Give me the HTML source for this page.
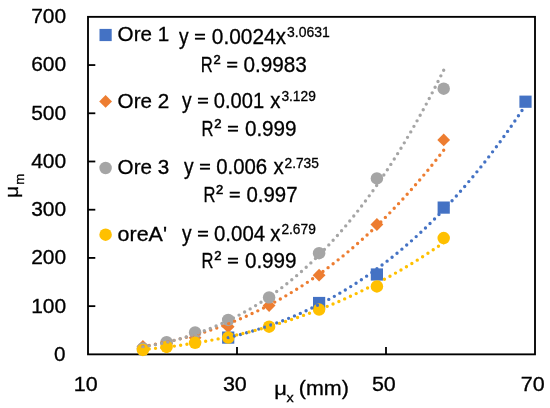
<!DOCTYPE html>
<html lang="en"><head><meta charset="utf-8"><title>Chart</title>
<style>html,body{margin:0;padding:0;background:#fff;}body{width:550px;height:408px;overflow:hidden;}</style></head>
<body>
<svg width="550" height="408" viewBox="0 0 550 408" style="display:block;font-family:'Liberation Sans', Arial, sans-serif;">
<rect x="0" y="0" width="550" height="408" fill="#ffffff"/>
<rect x="88.0" y="16.85" width="447.0" height="337.5" fill="none" stroke="#000" stroke-width="1.85"/>
<line x1="88.0" y1="306.14" x2="95.3" y2="306.14" stroke="#000" stroke-width="1.8"/>
<line x1="88.0" y1="257.92" x2="95.3" y2="257.92" stroke="#000" stroke-width="1.8"/>
<line x1="88.0" y1="209.71" x2="95.3" y2="209.71" stroke="#000" stroke-width="1.8"/>
<line x1="88.0" y1="161.49" x2="95.3" y2="161.49" stroke="#000" stroke-width="1.8"/>
<line x1="88.0" y1="113.28" x2="95.3" y2="113.28" stroke="#000" stroke-width="1.8"/>
<line x1="88.0" y1="65.06" x2="95.3" y2="65.06" stroke="#000" stroke-width="1.8"/>
<line x1="237.00" y1="354.35" x2="237.00" y2="347.05" stroke="#000" stroke-width="1.8"/>
<line x1="386.00" y1="354.35" x2="386.00" y2="347.05" stroke="#000" stroke-width="1.8"/>
<g>
<rect x="222.10" y="331.50" width="12.2" height="12.2" fill="#4472C4"/>
<rect x="313.00" y="296.90" width="12.2" height="12.2" fill="#4472C4"/>
<rect x="370.80" y="268.40" width="12.2" height="12.2" fill="#4472C4"/>
<rect x="437.60" y="201.50" width="12.2" height="12.2" fill="#4472C4"/>
<rect x="519.40" y="95.60" width="12.2" height="12.2" fill="#4472C4"/>
</g>
<g>
<path d="M142.90 340.10 L149.30 346.50 L142.90 352.90 L136.50 346.50 Z" fill="#ED7D31"/>
<path d="M166.60 337.10 L173.00 343.50 L166.60 349.90 L160.20 343.50 Z" fill="#ED7D31"/>
<path d="M195.10 331.40 L201.50 337.80 L195.10 344.20 L188.70 337.80 Z" fill="#ED7D31"/>
<path d="M228.20 320.30 L234.60 326.70 L228.20 333.10 L221.80 326.70 Z" fill="#ED7D31"/>
<path d="M269.10 299.20 L275.50 305.60 L269.10 312.00 L262.70 305.60 Z" fill="#ED7D31"/>
<path d="M319.10 268.80 L325.50 275.20 L319.10 281.60 L312.70 275.20 Z" fill="#ED7D31"/>
<path d="M376.90 218.10 L383.30 224.50 L376.90 230.90 L370.50 224.50 Z" fill="#ED7D31"/>
<path d="M443.70 133.50 L450.10 139.90 L443.70 146.30 L437.30 139.90 Z" fill="#ED7D31"/>
</g>
<g>
<circle cx="142.90" cy="348.40" r="6.25" fill="#A5A5A5"/>
<circle cx="166.60" cy="342.20" r="6.25" fill="#A5A5A5"/>
<circle cx="195.10" cy="332.50" r="6.25" fill="#A5A5A5"/>
<circle cx="228.20" cy="319.90" r="6.25" fill="#A5A5A5"/>
<circle cx="269.10" cy="297.50" r="6.25" fill="#A5A5A5"/>
<circle cx="319.10" cy="253.20" r="6.25" fill="#A5A5A5"/>
<circle cx="376.90" cy="178.40" r="6.25" fill="#A5A5A5"/>
<circle cx="443.70" cy="88.70" r="6.25" fill="#A5A5A5"/>
</g>
<g>
<circle cx="142.90" cy="349.90" r="6.25" fill="#FFC000"/>
<circle cx="166.60" cy="346.90" r="6.25" fill="#FFC000"/>
<circle cx="195.10" cy="342.80" r="6.25" fill="#FFC000"/>
<circle cx="228.20" cy="337.60" r="6.25" fill="#FFC000"/>
<circle cx="269.10" cy="326.70" r="6.25" fill="#FFC000"/>
<circle cx="319.10" cy="309.60" r="6.25" fill="#FFC000"/>
<circle cx="376.90" cy="286.40" r="6.25" fill="#FFC000"/>
<circle cx="443.70" cy="238.10" r="6.25" fill="#FFC000"/>
</g>
<path d="M228.20 337.58 L230.50 337.03 L232.81 336.46 L235.11 335.87 L237.42 335.28 L239.72 334.67 L242.03 334.04 L244.33 333.41 L246.64 332.76 L248.94 332.09 L251.25 331.42 L253.55 330.72 L255.86 330.02 L258.16 329.30 L260.47 328.56 L262.77 327.81 L265.07 327.05 L267.38 326.27 L269.68 325.47 L271.99 324.66 L274.29 323.84 L276.60 322.99 L278.90 322.14 L281.21 321.26 L283.51 320.37 L285.82 319.47 L288.12 318.55 L290.43 317.61 L292.73 316.65 L295.03 315.68 L297.34 314.69 L299.64 313.68 L301.95 312.66 L304.25 311.61 L306.56 310.56 L308.86 309.48 L311.17 308.38 L313.47 307.27 L315.78 306.14 L318.08 304.98 L320.39 303.82 L322.69 302.63 L325.00 301.42 L327.30 300.19 L329.60 298.95 L331.91 297.68 L334.21 296.40 L336.52 295.09 L338.82 293.77 L341.13 292.42 L343.43 291.06 L345.74 289.67 L348.04 288.27 L350.35 286.84 L352.65 285.39 L354.96 283.92 L357.26 282.43 L359.57 280.92 L361.87 279.39 L364.17 277.83 L366.48 276.26 L368.78 274.66 L371.09 273.04 L373.39 271.39 L375.70 269.73 L378.00 268.04 L380.31 266.33 L382.61 264.59 L384.92 262.83 L387.22 261.05 L389.53 259.25 L391.83 257.42 L394.13 255.57 L396.44 253.69 L398.74 251.79 L401.05 249.87 L403.35 247.92 L405.66 245.94 L407.96 243.94 L410.27 241.92 L412.57 239.87 L414.88 237.80 L417.18 235.70 L419.49 233.57 L421.79 231.42 L424.10 229.24 L426.40 227.04 L428.70 224.81 L431.01 222.55 L433.31 220.27 L435.62 217.96 L437.92 215.62 L440.23 213.26 L442.53 210.87 L444.84 208.45 L447.14 206.00 L449.45 203.53 L451.75 201.03 L454.06 198.50 L456.36 195.94 L458.67 193.35 L460.97 190.73 L463.27 188.09 L465.58 185.42 L467.88 182.71 L470.19 179.98 L472.49 177.22 L474.80 174.43 L477.10 171.61 L479.41 168.75 L481.71 165.87 L484.02 162.96 L486.32 160.02 L488.63 157.05 L490.93 154.04 L493.23 151.01 L495.54 147.94 L497.84 144.84 L500.15 141.72 L502.45 138.55 L504.76 135.36 L507.06 132.14 L509.37 128.88 L511.67 125.59 L513.98 122.27 L516.28 118.92 L518.59 115.53 L520.89 112.11 L523.20 108.66 L525.50 105.17" fill="none" stroke="#4472C4" stroke-width="3.4" stroke-linecap="round" stroke-dasharray="0 6.3467"/>
<path d="M142.90 346.44 L145.23 346.06 L147.56 345.67 L149.90 345.27 L152.23 344.85 L154.56 344.42 L156.89 343.98 L159.22 343.53 L161.55 343.07 L163.89 342.59 L166.22 342.09 L168.55 341.59 L170.88 341.07 L173.21 340.54 L175.54 339.99 L177.88 339.43 L180.21 338.86 L182.54 338.27 L184.87 337.67 L187.20 337.05 L189.54 336.42 L191.87 335.78 L194.20 335.12 L196.53 334.44 L198.86 333.75 L201.19 333.04 L203.53 332.32 L205.86 331.59 L208.19 330.83 L210.52 330.06 L212.85 329.28 L215.19 328.48 L217.52 327.66 L219.85 326.83 L222.18 325.98 L224.51 325.11 L226.84 324.23 L229.18 323.32 L231.51 322.41 L233.84 321.47 L236.17 320.52 L238.50 319.55 L240.83 318.56 L243.17 317.56 L245.50 316.53 L247.83 315.49 L250.16 314.43 L252.49 313.35 L254.83 312.26 L257.16 311.14 L259.49 310.01 L261.82 308.85 L264.15 307.68 L266.48 306.49 L268.82 305.28 L271.15 304.05 L273.48 302.80 L275.81 301.53 L278.14 300.24 L280.48 298.93 L282.81 297.60 L285.14 296.26 L287.47 294.89 L289.80 293.50 L292.13 292.09 L294.47 290.65 L296.80 289.20 L299.13 287.73 L301.46 286.24 L303.79 284.72 L306.12 283.18 L308.46 281.63 L310.79 280.05 L313.12 278.45 L315.45 276.82 L317.78 275.18 L320.12 273.51 L322.45 271.82 L324.78 270.11 L327.11 268.37 L329.44 266.62 L331.77 264.84 L334.11 263.03 L336.44 261.21 L338.77 259.36 L341.10 257.49 L343.43 255.59 L345.77 253.67 L348.10 251.73 L350.43 249.76 L352.76 247.77 L355.09 245.76 L357.42 243.72 L359.76 241.66 L362.09 239.57 L364.42 237.46 L366.75 235.33 L369.08 233.17 L371.41 230.98 L373.75 228.77 L376.08 226.54 L378.41 224.28 L380.74 221.99 L383.07 219.68 L385.41 217.34 L387.74 214.98 L390.07 212.59 L392.40 210.18 L394.73 207.74 L397.06 205.27 L399.40 202.78 L401.73 200.26 L404.06 197.72 L406.39 195.15 L408.72 192.55 L411.06 189.92 L413.39 187.27 L415.72 184.59 L418.05 181.88 L420.38 179.15 L422.71 176.39 L425.05 173.60 L427.38 170.78 L429.71 167.94 L432.04 165.07 L434.37 162.17 L436.70 159.24 L439.04 156.28 L441.37 153.30 L443.70 150.28" fill="none" stroke="#ED7D31" stroke-width="3.4" stroke-linecap="round" stroke-dasharray="0 6.3546"/>
<path d="M142.90 346.97 L145.23 346.57 L147.56 346.16 L149.90 345.73 L152.23 345.29 L154.56 344.83 L156.89 344.35 L159.22 343.86 L161.55 343.35 L163.89 342.83 L166.22 342.29 L168.55 341.73 L170.88 341.15 L173.21 340.56 L175.54 339.94 L177.88 339.31 L180.21 338.66 L182.54 337.99 L184.87 337.30 L187.20 336.59 L189.54 335.86 L191.87 335.11 L194.20 334.34 L196.53 333.55 L198.86 332.74 L201.19 331.90 L203.53 331.05 L205.86 330.17 L208.19 329.27 L210.52 328.34 L212.85 327.40 L215.19 326.43 L217.52 325.44 L219.85 324.42 L222.18 323.38 L224.51 322.31 L226.84 321.22 L229.18 320.11 L231.51 318.97 L233.84 317.80 L236.17 316.61 L238.50 315.39 L240.83 314.15 L243.17 312.87 L245.50 311.57 L247.83 310.25 L250.16 308.89 L252.49 307.51 L254.83 306.10 L257.16 304.66 L259.49 303.20 L261.82 301.70 L264.15 300.17 L266.48 298.62 L268.82 297.03 L271.15 295.41 L273.48 293.77 L275.81 292.09 L278.14 290.38 L280.48 288.64 L282.81 286.86 L285.14 285.06 L287.47 283.22 L289.80 281.35 L292.13 279.44 L294.47 277.51 L296.80 275.54 L299.13 273.53 L301.46 271.49 L303.79 269.42 L306.12 267.31 L308.46 265.17 L310.79 262.99 L313.12 260.77 L315.45 258.52 L317.78 256.23 L320.12 253.91 L322.45 251.55 L324.78 249.15 L327.11 246.71 L329.44 244.24 L331.77 241.72 L334.11 239.17 L336.44 236.58 L338.77 233.95 L341.10 231.28 L343.43 228.58 L345.77 225.83 L348.10 223.04 L350.43 220.21 L352.76 217.34 L355.09 214.43 L357.42 211.47 L359.76 208.48 L362.09 205.44 L364.42 202.36 L366.75 199.24 L369.08 196.07 L371.41 192.86 L373.75 189.61 L376.08 186.31 L378.41 182.97 L380.74 179.58 L383.07 176.15 L385.41 172.68 L387.74 169.15 L390.07 165.59 L392.40 161.97 L394.73 158.31 L397.06 154.60 L399.40 150.85 L401.73 147.05 L404.06 143.20 L406.39 139.30 L408.72 135.35 L411.06 131.36 L413.39 127.31 L415.72 123.22 L418.05 119.08 L420.38 114.88 L422.71 110.64 L425.05 106.35 L427.38 102.00 L429.71 97.61 L432.04 93.16 L434.37 88.66 L436.70 84.11 L439.04 79.51 L441.37 74.85 L443.70 70.14" fill="none" stroke="#A5A5A5" stroke-width="3.4" stroke-linecap="round" stroke-dasharray="0 6.3593"/>
<path d="M142.90 349.59 L145.23 349.38 L147.56 349.15 L149.90 348.92 L152.23 348.69 L154.56 348.44 L156.89 348.19 L159.22 347.93 L161.55 347.67 L163.89 347.40 L166.22 347.12 L168.55 346.83 L170.88 346.54 L173.21 346.24 L175.54 345.93 L177.88 345.62 L180.21 345.29 L182.54 344.96 L184.87 344.62 L187.20 344.27 L189.54 343.92 L191.87 343.56 L194.20 343.19 L196.53 342.81 L198.86 342.42 L201.19 342.02 L203.53 341.62 L205.86 341.21 L208.19 340.79 L210.52 340.36 L212.85 339.92 L215.19 339.47 L217.52 339.01 L219.85 338.55 L222.18 338.08 L224.51 337.59 L226.84 337.10 L229.18 336.60 L231.51 336.09 L233.84 335.57 L236.17 335.04 L238.50 334.50 L240.83 333.95 L243.17 333.40 L245.50 332.83 L247.83 332.25 L250.16 331.67 L252.49 331.07 L254.83 330.46 L257.16 329.85 L259.49 329.22 L261.82 328.58 L264.15 327.94 L266.48 327.28 L268.82 326.61 L271.15 325.94 L273.48 325.25 L275.81 324.55 L278.14 323.84 L280.48 323.12 L282.81 322.39 L285.14 321.65 L287.47 320.90 L289.80 320.14 L292.13 319.36 L294.47 318.58 L296.80 317.78 L299.13 316.97 L301.46 316.16 L303.79 315.33 L306.12 314.49 L308.46 313.63 L310.79 312.77 L313.12 311.90 L315.45 311.01 L317.78 310.11 L320.12 309.20 L322.45 308.28 L324.78 307.35 L327.11 306.40 L329.44 305.44 L331.77 304.47 L334.11 303.49 L336.44 302.50 L338.77 301.49 L341.10 300.48 L343.43 299.44 L345.77 298.40 L348.10 297.35 L350.43 296.28 L352.76 295.20 L355.09 294.11 L357.42 293.00 L359.76 291.88 L362.09 290.75 L364.42 289.61 L366.75 288.45 L369.08 287.28 L371.41 286.10 L373.75 284.91 L376.08 283.70 L378.41 282.47 L380.74 281.24 L383.07 279.99 L385.41 278.73 L387.74 277.45 L390.07 276.16 L392.40 274.86 L394.73 273.55 L397.06 272.22 L399.40 270.87 L401.73 269.52 L404.06 268.15 L406.39 266.76 L408.72 265.36 L411.06 263.95 L413.39 262.52 L415.72 261.08 L418.05 259.63 L420.38 258.16 L422.71 256.67 L425.05 255.18 L427.38 253.66 L429.71 252.14 L432.04 250.60 L434.37 249.04 L436.70 247.47 L439.04 245.88 L441.37 244.28 L443.70 242.67" fill="none" stroke="#FFC000" stroke-width="3.4" stroke-linecap="round" stroke-dasharray="0 6.3340"/>
<g class="y-axis-labels">
<text font-size="20.0" fill="#000" stroke="#000" stroke-width="0.3"><tspan x="54.00" y="361.05" textLength="11.5" lengthAdjust="spacingAndGlyphs">0</tspan></text>
<text font-size="20.0" fill="#000" stroke="#000" stroke-width="0.3"><tspan x="31.20" y="312.54" textLength="35.0" lengthAdjust="spacingAndGlyphs">100</tspan></text>
<text font-size="20.0" fill="#000" stroke="#000" stroke-width="0.3"><tspan x="31.20" y="264.32" textLength="35.0" lengthAdjust="spacingAndGlyphs">200</tspan></text>
<text font-size="20.0" fill="#000" stroke="#000" stroke-width="0.3"><tspan x="31.20" y="216.11" textLength="35.0" lengthAdjust="spacingAndGlyphs">300</tspan></text>
<text font-size="20.0" fill="#000" stroke="#000" stroke-width="0.3"><tspan x="31.20" y="167.89" textLength="35.0" lengthAdjust="spacingAndGlyphs">400</tspan></text>
<text font-size="20.0" fill="#000" stroke="#000" stroke-width="0.3"><tspan x="31.20" y="119.68" textLength="35.0" lengthAdjust="spacingAndGlyphs">500</tspan></text>
<text font-size="20.0" fill="#000" stroke="#000" stroke-width="0.3"><tspan x="31.20" y="71.46" textLength="35.0" lengthAdjust="spacingAndGlyphs">600</tspan></text>
<text font-size="20.0" fill="#000" stroke="#000" stroke-width="0.3"><tspan x="31.20" y="23.25" textLength="35.0" lengthAdjust="spacingAndGlyphs">700</tspan></text>
</g>
<g class="x-axis-labels">
<text font-size="20.0" fill="#000" stroke="#000" stroke-width="0.3"><tspan x="73.85" y="390.60" textLength="23.9" lengthAdjust="spacingAndGlyphs">10</tspan></text>
<text font-size="20.0" fill="#000" stroke="#000" stroke-width="0.3"><tspan x="222.90" y="390.60" textLength="23.9" lengthAdjust="spacingAndGlyphs">30</tspan></text>
<text font-size="20.0" fill="#000" stroke="#000" stroke-width="0.3"><tspan x="371.90" y="390.60" textLength="23.9" lengthAdjust="spacingAndGlyphs">50</tspan></text>
<text font-size="20.0" fill="#000" stroke="#000" stroke-width="0.3"><tspan x="520.80" y="390.60" textLength="23.9" lengthAdjust="spacingAndGlyphs">70</tspan></text>
</g>
<text font-size="20.0" fill="#000" stroke="#000" stroke-width="0.3"><tspan x="274.20" y="394.60" textLength="12.6" lengthAdjust="spacingAndGlyphs" font-size="19.2">μ</tspan><tspan x="286.60" y="401.70" textLength="7.2" lengthAdjust="spacingAndGlyphs" font-size="12.5">x</tspan> <tspan x="298.80" y="394.60" textLength="50.0" lengthAdjust="spacingAndGlyphs">(mm)</tspan></text>
<g transform="translate(17.6 198.0) rotate(-90)"><text font-size="20.0" fill="#000" stroke="#000" stroke-width="0.3"><tspan x="0.00" y="0.00" textLength="12.2" lengthAdjust="spacingAndGlyphs" font-size="19.2">μ</tspan><tspan x="13.20" y="5.90" textLength="11.0" lengthAdjust="spacingAndGlyphs" font-size="12.5">m</tspan></text></g>
<g class="legend">
<rect x="99.50" y="28.90" width="12.2" height="12.2" fill="#4472C4"/>
<text font-size="20.0" fill="#000" stroke="#000" stroke-width="0.3"><tspan x="117.60" y="41.10" textLength="51.6" lengthAdjust="spacingAndGlyphs">Ore 1</tspan></text>
<path d="M105.60 95.00 L112.00 101.40 L105.60 107.80 L99.20 101.40 Z" fill="#ED7D31"/>
<text font-size="20.0" fill="#000" stroke="#000" stroke-width="0.3"><tspan x="117.60" y="107.50" textLength="51.6" lengthAdjust="spacingAndGlyphs">Ore 2</tspan></text>
<circle cx="105.60" cy="168.00" r="6.25" fill="#A5A5A5"/>
<text font-size="20.0" fill="#000" stroke="#000" stroke-width="0.3"><tspan x="117.60" y="174.30" textLength="51.6" lengthAdjust="spacingAndGlyphs">Ore 3</tspan></text>
<circle cx="105.60" cy="234.70" r="6.25" fill="#FFC000"/>
<text font-size="20.0" fill="#000" stroke="#000" stroke-width="0.3"><tspan x="117.60" y="241.00" textLength="49.4" lengthAdjust="spacingAndGlyphs">oreA'</tspan></text>
</g>
<g class="equations">
<text font-size="21.2" fill="#000" stroke="#000" stroke-width="0.3"><tspan x="179.00" y="43.65" textLength="9.6" lengthAdjust="spacingAndGlyphs">y</tspan> <tspan x="194.50" y="41.60" textLength="11.0" lengthAdjust="spacingAndGlyphs" font-size="15.0" stroke-width="0.75">=</tspan> <tspan x="211.80" y="43.65" textLength="63.8" lengthAdjust="spacingAndGlyphs">0.0024</tspan><tspan x="275.80" y="43.65" textLength="10.2" lengthAdjust="spacingAndGlyphs">x</tspan><tspan x="287.00" y="37.00" textLength="42.7" lengthAdjust="spacingAndGlyphs" font-size="14.2">3.0631</tspan></text>
<text font-size="21.2" fill="#000" stroke="#000" stroke-width="0.3"><tspan x="200.80" y="71.85" textLength="12.0" lengthAdjust="spacingAndGlyphs">R</tspan><tspan x="213.40" y="63.90" textLength="7.2" lengthAdjust="spacingAndGlyphs" font-size="12.0" stroke-width="0.6">2</tspan> <tspan x="226.70" y="69.80" textLength="11.0" lengthAdjust="spacingAndGlyphs" font-size="15.0" stroke-width="0.75">=</tspan> <tspan x="243.40" y="71.85" textLength="63.4" lengthAdjust="spacingAndGlyphs">0.9983</tspan></text>
<text font-size="21.2" fill="#000" stroke="#000" stroke-width="0.3"><tspan x="181.90" y="107.75" textLength="9.6" lengthAdjust="spacingAndGlyphs">y</tspan> <tspan x="197.40" y="105.70" textLength="11.0" lengthAdjust="spacingAndGlyphs" font-size="15.0" stroke-width="0.75">=</tspan> <tspan x="213.80" y="107.75" textLength="50.4" lengthAdjust="spacingAndGlyphs">0.001</tspan> <tspan x="270.30" y="107.75" textLength="10.2" lengthAdjust="spacingAndGlyphs">x</tspan><tspan x="281.40" y="101.10" textLength="34.4" lengthAdjust="spacingAndGlyphs" font-size="14.2">3.129</tspan></text>
<text font-size="21.2" fill="#000" stroke="#000" stroke-width="0.3"><tspan x="201.60" y="135.65" textLength="12.0" lengthAdjust="spacingAndGlyphs">R</tspan><tspan x="214.20" y="127.70" textLength="7.2" lengthAdjust="spacingAndGlyphs" font-size="12.0" stroke-width="0.6">2</tspan> <tspan x="227.50" y="133.60" textLength="11.0" lengthAdjust="spacingAndGlyphs" font-size="15.0" stroke-width="0.75">=</tspan> <tspan x="244.90" y="135.65" textLength="51.7" lengthAdjust="spacingAndGlyphs">0.999</tspan></text>
<text font-size="21.2" fill="#000" stroke="#000" stroke-width="0.3"><tspan x="184.00" y="174.35" textLength="9.6" lengthAdjust="spacingAndGlyphs">y</tspan> <tspan x="199.50" y="172.30" textLength="11.0" lengthAdjust="spacingAndGlyphs" font-size="15.0" stroke-width="0.75">=</tspan> <tspan x="216.20" y="174.35" textLength="51.0" lengthAdjust="spacingAndGlyphs">0.006</tspan> <tspan x="273.40" y="174.35" textLength="10.2" lengthAdjust="spacingAndGlyphs">x</tspan><tspan x="284.50" y="167.70" textLength="34.4" lengthAdjust="spacingAndGlyphs" font-size="14.2">2.735</tspan></text>
<text font-size="21.2" fill="#000" stroke="#000" stroke-width="0.3"><tspan x="203.40" y="201.65" textLength="12.0" lengthAdjust="spacingAndGlyphs">R</tspan><tspan x="216.00" y="193.70" textLength="7.2" lengthAdjust="spacingAndGlyphs" font-size="12.0" stroke-width="0.6">2</tspan> <tspan x="229.30" y="199.60" textLength="11.0" lengthAdjust="spacingAndGlyphs" font-size="15.0" stroke-width="0.75">=</tspan> <tspan x="246.50" y="201.65" textLength="51.0" lengthAdjust="spacingAndGlyphs">0.997</tspan></text>
<text font-size="21.2" fill="#000" stroke="#000" stroke-width="0.3"><tspan x="181.90" y="240.65" textLength="9.6" lengthAdjust="spacingAndGlyphs">y</tspan> <tspan x="197.40" y="238.60" textLength="11.0" lengthAdjust="spacingAndGlyphs" font-size="15.0" stroke-width="0.75">=</tspan> <tspan x="214.00" y="240.65" textLength="51.1" lengthAdjust="spacingAndGlyphs">0.004</tspan> <tspan x="270.30" y="240.65" textLength="10.2" lengthAdjust="spacingAndGlyphs">x</tspan><tspan x="281.40" y="234.00" textLength="34.4" lengthAdjust="spacingAndGlyphs" font-size="14.2">2.679</tspan></text>
<text font-size="21.2" fill="#000" stroke="#000" stroke-width="0.3"><tspan x="201.60" y="268.35" textLength="12.0" lengthAdjust="spacingAndGlyphs">R</tspan><tspan x="214.20" y="260.40" textLength="7.2" lengthAdjust="spacingAndGlyphs" font-size="12.0" stroke-width="0.6">2</tspan> <tspan x="227.50" y="266.30" textLength="11.0" lengthAdjust="spacingAndGlyphs" font-size="15.0" stroke-width="0.75">=</tspan> <tspan x="244.90" y="268.35" textLength="51.7" lengthAdjust="spacingAndGlyphs">0.999</tspan></text>
</g>
</svg>
</body></html>
